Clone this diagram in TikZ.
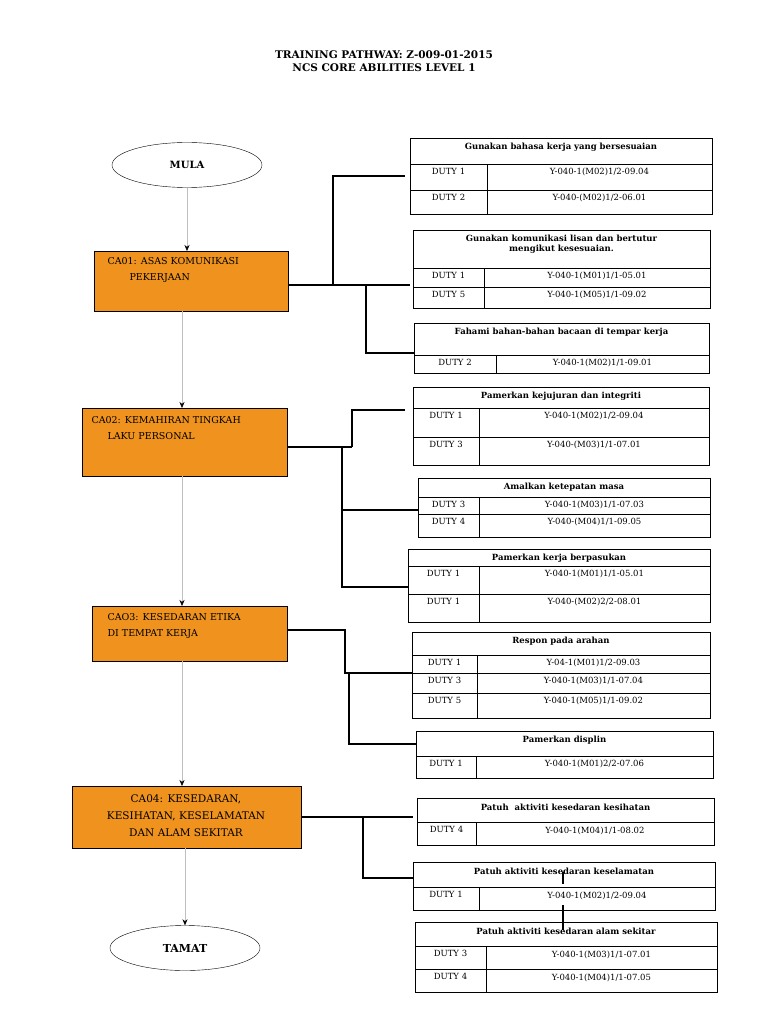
\documentclass[tikz,border=0pt]{standalone}
\usepackage{fontspec}
\setmainfont{DejaVu Serif}
\usetikzlibrary{shapes.geometric,arrows.meta}
\definecolor{org}{HTML}{F0931E}
\newcommand{\thead}[6]{% x1 y1 x2 yh name text
  \draw[thin] (#1,#2) rectangle (#3,#4);
  \node[font=\bfseries\fontsize{8.5}{10}\selectfont,align=center,anchor=north] (#5) at ({(#1+#3)/2},#2+2) {#6};}
\newcommand{\trow}[7]{% x1 ya x2 yb div duty code
  \draw[thin] (#1,#2) rectangle (#3,#4); \draw[thin] (#5,#2)--(#5,#4);
  \node[font=\fontsize{8.5}{10}\selectfont,anchor=north] at ({(#1+#5)/2},#2+1) {#6};
  \node[font=\fontsize{8.5}{10}\selectfont,anchor=north] at ({(#5+#3)/2},#2+1) {#7};}
\begin{document}
\begin{tikzpicture}[x=1pt,y=-1pt,
  ca/.style={draw,fill=org,rectangle,font=\fontsize{10}{13}\selectfont,align=center,text width=#1,anchor=north west},
  term/.style={draw,ellipse,minimum width=150,minimum height=45,font=\bfseries\fontsize{10}{12}\selectfont},
  flow/.style={draw=black!25,-{Stealth[black,length=6pt,width=5pt]}},
  con/.style={line width=1.8pt}]
\useasboundingbox (0,0) rectangle (768,1024);
\node[font=\bfseries\fontsize{10.5}{13}\selectfont,align=center] (title) at (384,61) {TRAINING PATHWAY: Z-009-01-2015\\NCS CORE ABILITIES LEVEL 1};
\node[term] (mula) at (187,165) {MULA};
\node[term,font=\bfseries\fontsize{11}{13}\selectfont] (tamat) at (185,948) {TAMAT};
\node[draw,fill=org,minimum width=194,minimum height=60,anchor=north west,inner sep=0] (ca1) at (94,251) {};
\node[anchor=north west,align=left,font=\fontsize{9.5}{16}\selectfont] at (104,254) {CA01: ASAS KOMUNIKASI\\\hspace*{22pt}PEKERJAAN};
\node[draw,fill=org,minimum width=205,minimum height=68,anchor=north west,inner sep=0] (ca2) at (82,408) {};
\node[anchor=north west,align=left,font=\fontsize{9.5}{16}\selectfont] at (88,413) {CA02: KEMAHIRAN TINGKAH\\\hspace*{16pt}LAKU PERSONAL};
\node[draw,fill=org,minimum width=195,minimum height=55,anchor=north west,inner sep=0] (ca3) at (92,606) {};
\node[anchor=north west,align=left,font=\fontsize{9.5}{16}\selectfont] at (104,610) {CAO3: KESEDARAN ETIKA\\DI TEMPAT KERJA};
\node[draw,fill=org,minimum width=229,minimum height=62,anchor=north west,inner sep=0] (ca4) at (72,786) {};
\node[align=center,font=\fontsize{10.5}{17}\selectfont] at (186,816) {CA04: KESEDARAN,\\KESIHATAN, KESELAMATAN\\DAN ALAM SEKITAR};
\draw[flow] (mula) -- (mula|-ca1.north);
\draw[flow] (ca1.south-|182,0) -- (182,408);
\draw[flow] (ca2.south-|182,0) -- (182,606);
\draw[flow] (ca3.south-|182,0) -- (182,786);
\draw[flow] (ca4.south-|185,0) -- (tamat);
% tables
\thead{410}{138}{712}{164}{h1}{Gunakan bahasa kerja yang bersesuaian}
\trow{410}{164}{712}{190}{487}{DUTY 1}{Y-040-1(M02)1/2-09.04}
\trow{410}{190}{712}{214}{487}{DUTY 2}{Y-040-(M02)1/2-06.01}
\thead{413}{230}{710}{268}{h2}{Gunakan komunikasi lisan dan bertutur\\mengikut kesesuaian.}
\trow{413}{268}{710}{287}{484}{DUTY 1}{Y-040-1(M01)1/1-05.01}
\trow{413}{287}{710}{308}{484}{DUTY 5}{Y-040-1(M05)1/1-09.02}
\thead{414}{323}{709}{355}{h3}{Fahami bahan-bahan bacaan di tempar kerja}
\trow{414}{355}{709}{373}{496}{DUTY 2}{Y-040-1(M02)1/1-09.01}
\thead{413}{387}{709}{408}{h4}{Pamerkan kejujuran dan integriti}
\trow{413}{408}{709}{437}{479}{DUTY 1}{Y-040-1(M02)1/2-09.04}
\trow{413}{437}{709}{465}{479}{DUTY 3}{Y-040-(M03)1/1-07.01}
\thead{418}{478}{710}{497}{h5}{Amalkan ketepatan masa}
\trow{418}{497}{710}{514}{479}{DUTY 3}{Y-040-1(M03)1/1-07.03}
\trow{418}{514}{710}{537}{479}{DUTY 4}{Y-040-(M04)1/1-09.05}
\thead{408}{549}{710}{566}{h6}{Pamerkan kerja berpasukan}
\trow{408}{566}{710}{594}{479}{DUTY 1}{Y-040-1(M01)1/1-05.01}
\trow{408}{594}{710}{622}{479}{DUTY 1}{Y-040-(M02)2/2-08.01}
\thead{412}{632}{710}{655}{h7}{Respon pada arahan}
\trow{412}{655}{710}{673}{477}{DUTY 1}{Y-04-1(M01)1/2-09.03}
\trow{412}{673}{710}{693}{477}{DUTY 3}{Y-040-1(M03)1/1-07.04}
\trow{412}{693}{710}{718}{477}{DUTY 5}{Y-040-1(M05)1/1-09.02}
\thead{416}{731}{713}{756}{h8}{Pamerkan displin}
\trow{416}{756}{713}{778}{476}{DUTY 1}{Y-040-1(M01)2/2-07.06}
\thead{417}{798}{714}{822}{h9}{Patuh \ aktiviti kesedaran kesihatan}
\trow{417}{822}{714}{845}{476}{DUTY 4}{Y-040-1(M04)1/1-08.02}
\thead{413}{862}{715}{887}{h10}{Patuh aktiviti kesedaran keselamatan}
\trow{413}{887}{715}{910}{479}{DUTY 1}{Y-040-1(M02)1/2-09.04}
\thead{415}{922}{717}{946}{h11}{Patuh aktiviti kesedaran alam sekitar}
\trow{415}{946}{717}{969}{486}{DUTY 3}{Y-040-1(M03)1/1-07.01}
\trow{415}{969}{717}{992}{486}{DUTY 4}{Y-040-1(M04)1/1-07.05}
% connectors
\coordinate (a1) at (405,176); \coordinate (a3) at (414,353);
\draw[con] (ca1.east|-0,285) -- (410,285);
\draw[con] (333,285) |- (a1);
\draw[con] (366,285) |- (a3);
\coordinate (b1) at (405,410); \coordinate (b2) at (418,510); \coordinate (b3) at (408,587);
\draw[con] (ca2.east|-0,447) -- (352,447);
\draw[con] (352,447) |- (b1);
\draw[con] (342,447) |- (b3);
\draw[con] (342,510) -- (b2);
\coordinate (c1) at (412,673); \coordinate (c2) at (416,744);
\draw[con] (ca3.east|-0,630) -- (345,630) |- (c1);
\draw[con] (349,673) |- (c2);
\coordinate (d1) at (413,817); \coordinate (d2) at (413,878);
\draw[con] (ca4.east|-0,817) -- (d1);
\draw[con] (363,817) |- (d2);
\draw[con] (563,872) -- (563,884);
\draw[con] (563,905) -- (563,930);
\end{tikzpicture}
\end{document}
